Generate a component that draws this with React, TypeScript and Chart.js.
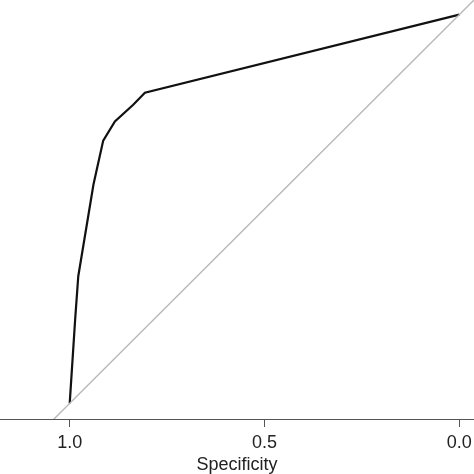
import React, { useEffect, useRef } from "react";
import { Chart, registerables } from "chart.js";

Chart.register(...registerables);

const specificity = [1.0, 0.986, 0.978, 0.939, 0.914, 0.884, 0.837, 0.807, 0.0];
const sensitivity = [0.0, 0.216, 0.327, 0.563, 0.676, 0.725, 0.768, 0.799, 1.0];
const diagonalSpec = [1.1, -0.1];
const diagonalSens = [-0.1, 1.1];
const xTicks = [0, 0.5, 1];
const xTitle = "Specificity";

export default function App() {
  const ref = useRef<HTMLCanvasElement>(null);
  useEffect(() => {
    document.body.style.margin = "0";
    const ctx = ref.current!;
    const chart = new Chart(ctx, {
      type: "line",
      data: {
        datasets: [
          {
            data: diagonalSpec.map((x, i) => ({ x, y: diagonalSens[i] })),
            borderColor: "#b8b8b8",
            borderWidth: 1.4,
            pointRadius: 0,
            tension: 0,
          },
          {
            data: specificity.map((x, i) => ({ x, y: sensitivity[i] })),
            borderColor: "#111111",
            borderWidth: 2.2,
            pointRadius: 0,
            tension: 0,
          },
        ],
      },
      options: {
        animation: false,
        responsive: false,
        devicePixelRatio: 1,
        layout: { padding: 0 },
        plugins: { legend: { display: false }, tooltip: { enabled: false } },
        scales: {
          x: {
            type: "linear",
            reverse: true,
            min: -0.0377,
            max: 1.1789,
            afterBuildTicks: (axis: any) => {
              axis.ticks = xTicks.map((v) => ({ value: v }));
            },
            grid: {
              drawOnChartArea: false,
              drawTicks: true,
              tickLength: 8,
              color: "#555555",
            },
            border: { display: true, color: "#555555", width: 1 },
            ticks: {
              padding: 7,
              maxRotation: 0,
              autoSkip: false,
              color: "#222222",
              font: { family: "Liberation Sans, Arial", size: 18, lineHeight: 1 },
              callback: (v: any) => Number(v).toFixed(1),
            },
            title: {
              display: true,
              text: xTitle,
              color: "#222222",
              font: { family: "Liberation Sans, Arial", size: 18, lineHeight: 1 },
              padding: { top: -3, bottom: 0 },
            },
          },
          y: {
            type: "linear",
            display: false,
            min: -0.0403,
            max: 1.0377,
          },
        },
      },
    });
    return () => chart.destroy();
  }, []);
  return <canvas ref={ref} width={474} height={474} style={{ display: "block" }} />;
}
